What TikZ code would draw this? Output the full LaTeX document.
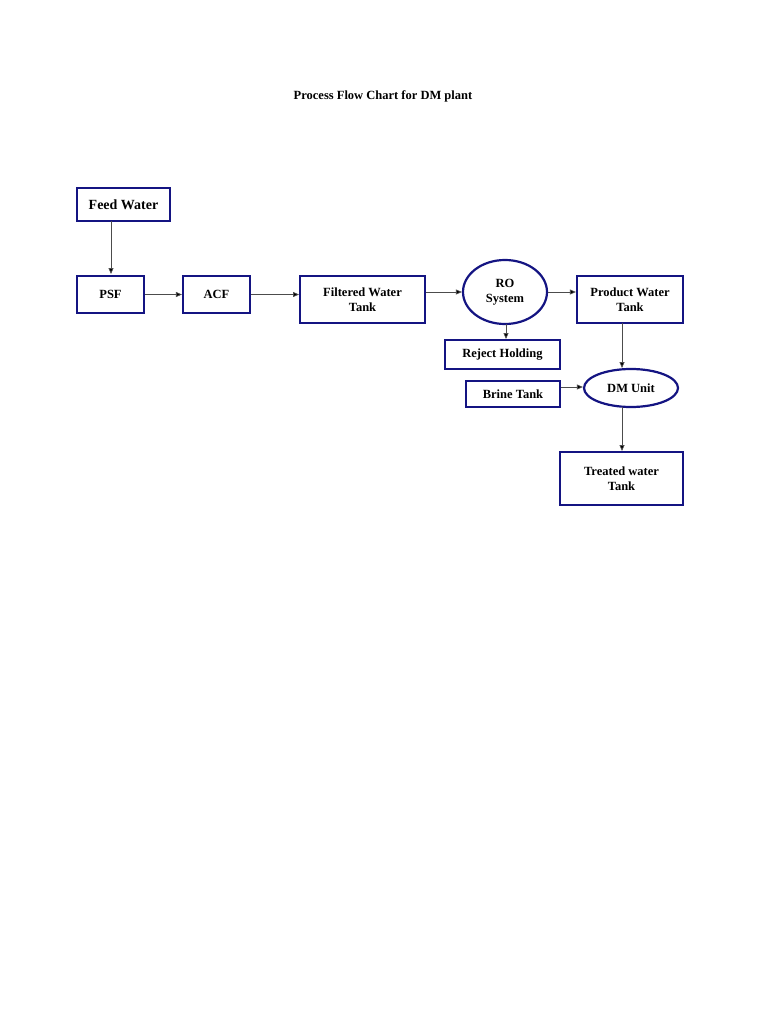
\documentclass[tikz,border=0pt]{standalone}
\usepackage{fontspec}
\setmainfont{Liberation Serif}
\usetikzlibrary{arrows.meta,shapes.geometric}
\definecolor{navy}{RGB}{20,20,130}
\begin{document}
\begin{tikzpicture}[x=1pt,y=-1pt,
  box/.style={draw=navy,line width=2.2pt,fill=white,font=\bfseries\fontsize{12.5}{15}\selectfont,align=center,inner sep=0pt},
  oval/.style={ellipse,draw=navy,line width=2.2pt,fill=white,font=\bfseries\fontsize{12.5}{15}\selectfont,align=center,inner sep=0pt},
  arr/.style={draw=black!70,line width=0.7pt,-{Triangle[length=6pt,width=5pt,fill=black]}}]
\useasboundingbox (0,0) rectangle (768,1024);
\node[font=\bfseries\fontsize{12.5}{13}\selectfont] (title) at (383,96) {Process Flow Chart for DM plant};
\node[box,minimum width=93,minimum height=33,font=\bfseries\fontsize{14}{15}\selectfont] (feed) at (123.5,204.5) {Feed Water};
\node[box,minimum width=67,minimum height=37] (psf) at (110.5,294.5) {PSF};
\node[box,minimum width=67,minimum height=37] (acf) at (216.5,294.5) {ACF};
\node[box,minimum width=125,minimum height=47] (fwt) at (362.5,299.5) {Filtered Water\\Tank};
\node[oval,minimum width=84,minimum height=64] (ro) at (505,292) {RO\\System};
\node[box,minimum width=106,minimum height=47] (pwt) at (630,299.5) {Product Water\\Tank};
\node[box,minimum width=115,minimum height=29] (rej) at (502.5,354.5) {Reject Holding};
\node[box,minimum width=94,minimum height=26] (brine) at (513,394) {Brine Tank};
\node[oval,minimum width=94,minimum height=38] (dm) at (631,388) {DM Unit};
\node[box,minimum width=123,minimum height=53] (twt) at (621.5,478.5) {Treated water\\Tank};
\draw[arr] (111,221) -- (111,274);
\draw[arr] (psf.east) -- (acf.west |- psf.east);
\draw[arr] (acf.east) -- (299,294.5);
\draw[arr] (fwt.east |- 0,292) -- (ro.west);
\draw[arr] (ro.east) -- (pwt.west |- ro.east);
\draw[arr] (506,324) -- (506,339);
\draw[arr] (622,323) -- (622,368);
\draw[arr] (brine.east |- 0,387) -- (dm.west |- 0,387);
\draw[arr] (622,407) -- (622,451);
\end{tikzpicture}
\end{document}
